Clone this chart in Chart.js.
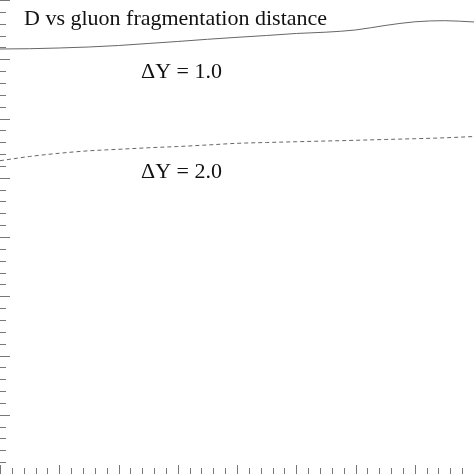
<!DOCTYPE html>
<html>
<head>
<meta charset="utf-8">
<style>
html,body{margin:0;padding:0;background:#fff;overflow:hidden;}
#wrap{position:absolute;left:0;top:0;width:474px;height:474px;}
</style>
<script src="https://cdn.jsdelivr.net/npm/chart.js@4.4.1/dist/chart.umd.min.js"></script>
</head>
<body>
<div id="wrap"><canvas id="c" width="474" height="474"></canvas></div>
<script>
// Data (x in axis units 0..8, major tick = 1)
const xValues = [0, 0.5, 1, 1.5, 2, 2.5, 3, 3.5, 4, 4.5, 5, 5.5, 6, 6.5, 7, 7.5, 8];
const dy1Values = [7.173, 7.178, 7.190, 7.207, 7.232, 7.266, 7.300, 7.337, 7.370, 7.401, 7.435, 7.457, 7.494, 7.570, 7.632, 7.651, 7.629];
const dy2Values = [5.288, 5.359, 5.413, 5.455, 5.480, 5.506, 5.527, 5.553, 5.581, 5.595, 5.608, 5.620, 5.632, 5.646, 5.659, 5.674, 5.696];
const titleText = 'D vs gluon fragmentation distance';
const label1 = '\u0394Y = 1.0';
const label2 = '\u0394Y = 2.0';

const toPts = (ys) => xValues.map((x, i) => ({x: x, y: ys[i]}));

const inwardTicks = {
  id: 'inwardTicks',
  afterDraw(chart) {
    const ctx = chart.ctx;
    const xs = chart.scales.x, ys = chart.scales.y;
    const area = chart.chartArea;
    ctx.save();
    ctx.strokeStyle = '#777';
    ctx.lineWidth = 1;
    ctx.beginPath();
    xs.ticks.forEach(t => {
      const px = Math.round(xs.getPixelForValue(t.value)) + 0.5;
      const major = Math.abs(t.value - Math.round(t.value)) < 1e-6;
      const len = major ? 9 : 6;
      ctx.moveTo(px, area.bottom);
      ctx.lineTo(px, area.bottom - len);
    });
    ys.ticks.forEach(t => {
      const py = Math.round(ys.getPixelForValue(t.value)) + 0.5;
      const major = Math.abs(t.value - Math.round(t.value)) < 1e-6;
      const len = major ? 10 : 6;
      ctx.moveTo(area.left, py);
      ctx.lineTo(area.left + len, py);
    });
    ctx.stroke();
    ctx.restore();
  }
};

const textLabels = {
  id: 'textLabels',
  afterDraw(chart) {
    const ctx = chart.ctx;
    ctx.save();
    ctx.fillStyle = '#111';
    ctx.textBaseline = 'alphabetic';
    ctx.textAlign = 'left';
    ctx.font = '22px "Liberation Serif", "Times New Roman", serif';
    ctx.fillText(titleText, 24, 25);
    ctx.fillText(label1, 141, 78);
    ctx.fillText(label2, 141, 178);
    ctx.restore();
  }
};

new Chart(document.getElementById('c'), {
  type: 'line',
  data: {
    datasets: [
      {
        label: label1,
        data: toPts(dy1Values),
        borderColor: '#666',
        borderWidth: 1,
        pointRadius: 0,
        cubicInterpolationMode: 'monotone',
        fill: false
      },
      {
        label: label2,
        data: toPts(dy2Values),
        borderColor: '#666',
        borderWidth: 1,
        borderDash: [4, 3],
        pointRadius: 0,
        cubicInterpolationMode: 'monotone',
        fill: false
      }
    ]
  },
  options: {
    responsive: false,
    animation: false,
    devicePixelRatio: 1,
    layout: {padding: 0},
    plugins: {legend: {display: false}, tooltip: {enabled: false}, title: {display: false}},
    scales: {
      x: {
        type: 'linear', min: 0, max: 8,
        ticks: {display: false, stepSize: 0.2, padding: 0},
        grid: {display: false, drawTicks: false},
        border: {display: false}
      },
      y: {
        type: 'linear', min: 0, max: 8,
        ticks: {display: false, stepSize: 0.2, padding: 0},
        grid: {display: false, drawTicks: false},
        border: {display: false}
      }
    }
  },
  plugins: [inwardTicks, textLabels]
});
</script>
</body>
</html>
